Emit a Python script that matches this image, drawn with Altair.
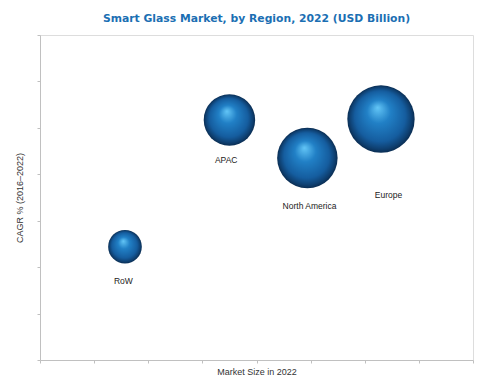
import altair as alt
import pandas as pd

regions = ["RoW", "APAC", "North America", "Europe"]
market_size = [1.57, 3.50, 4.94, 6.30]      # x position (unlabelled axis, 0-8)
cagr = [2.44, 5.17, 4.35, 5.19]              # y position (unlabelled axis, 0-7)
bubble = [0.36, 0.84, 1.16, 1.44]            # relative bubble size (area)
label_x = [1.54, 3.44, 4.98, 6.44]
label_y = [1.70, 4.30, 3.31, 3.56]
x_ticks = [0, 1, 2, 3, 4, 5, 6, 7, 8]
y_ticks = [0, 1, 2, 3, 4, 5, 6, 7]

df = pd.DataFrame({
    "region": regions, "x": market_size, "y": cagr, "s": bubble,
    "lx": label_x, "ly": label_y,
})

xs = alt.Scale(domain=[0, 8], nice=False, zero=False)
ys = alt.Scale(domain=[0, 7], nice=False, zero=False)

grad = {
    "gradient": "radial",
    "x1": 0.45, "y1": 0.33, "r1": 0.0,
    "x2": 0.5, "y2": 0.5, "r2": 0.5,
    "stops": [
        {"offset": 0.0, "color": "#63c6f7"},
        {"offset": 0.35, "color": "#2180c6"},
        {"offset": 0.75, "color": "#155d9f"},
        {"offset": 0.92, "color": "#0e3f70"},
        {"offset": 1.0, "color": "#0a2d52"},
    ],
}

bubbles = alt.Chart(df).mark_circle(fill=grad, opacity=1).encode(
    x=alt.X("x:Q", scale=xs, axis=alt.Axis(
        title="Market Size in 2022", labels=False, grid=False,
        values=x_ticks, domainColor="#c0c0c0", tickColor="#c0c0c0",
        tickSize=3, titleFont="Liberation Sans", titleFontSize=9,
        titleFontWeight="normal", titleColor="#333333", titlePadding=4)),
    y=alt.Y("y:Q", scale=ys, axis=alt.Axis(
        title="CAGR % (2016–2022)", labels=False, grid=False,
        values=y_ticks, domainColor="#c0c0c0", tickColor="#c0c0c0",
        tickSize=3, titleFont="Liberation Sans", titleFontSize=9,
        titleFontWeight="normal", titleColor="#333333", titlePadding=12)),
    size=alt.Size("s:Q", scale=alt.Scale(domain=[0, 1.44], range=[0, 4536]), legend=None),
)

labels = alt.Chart(df).mark_text(
    font="Liberation Sans", fontSize=8.5, color="#222222", baseline="middle"
).encode(
    x=alt.X("lx:Q", scale=xs),
    y=alt.Y("ly:Q", scale=ys),
    text="region:N",
)

chart = alt.layer(bubbles, labels).properties(
    width=433, height=325,
    title=alt.TitleParams(
        "Smart Glass Market, by Region, 2022 (USD Billion)",
        font="DejaVu Sans", fontSize=10.8, fontWeight="bold", color="#1b6fb3",
        anchor="middle", offset=11),
    autosize=alt.AutoSizeParams(type="none"),
    padding={"left": 32, "top": 27, "right": 5, "bottom": 25},
).configure_view(stroke=None).configure(background="white")

chart.save("out.html", embed_options={"renderer": "svg", "actions": False})
